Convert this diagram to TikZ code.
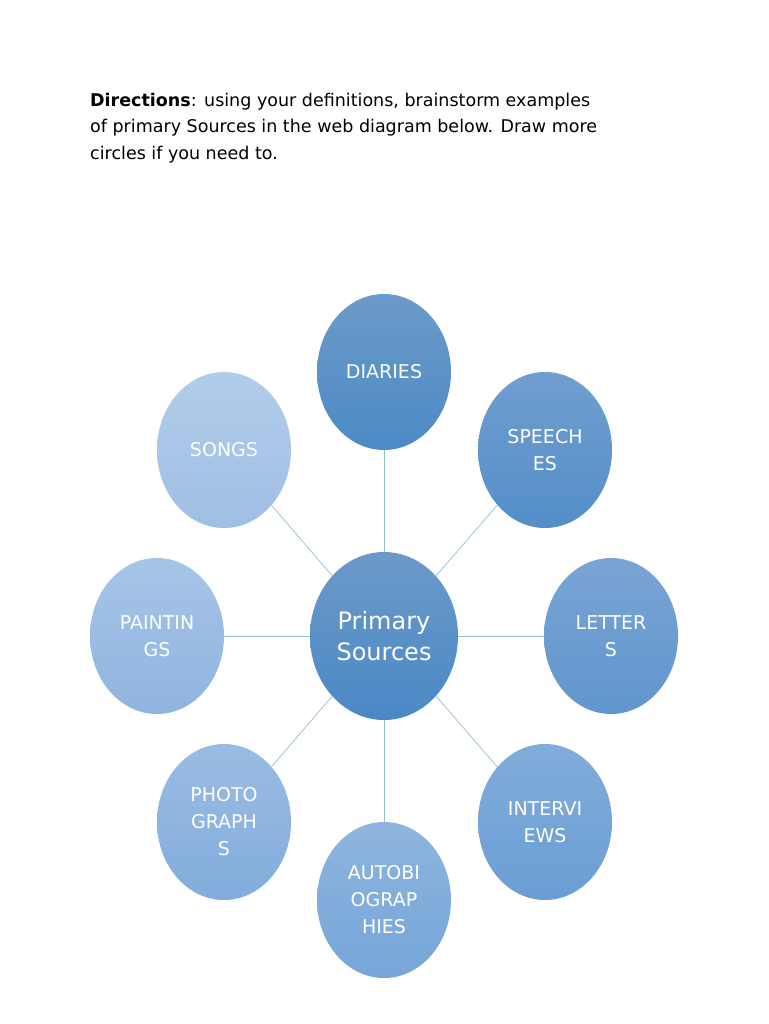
\documentclass[tikz,border=0pt]{standalone}
\usepackage{fontspec}
\setmainfont{DejaVu Sans}
\usetikzlibrary{shapes.geometric}
\begin{document}
\begin{tikzpicture}[x=1pt,y=-1pt,
  bub/.style={ellipse,minimum width=134pt,minimum height=156pt,inner sep=0pt,align=center,text=white,font=\fontsize{19}{27}\selectfont},
  link/.style={draw=blue!30!cyan!40!gray!60,line width=0.7pt}]
\useasboundingbox (0,0) rectangle (768,1024);
\node[anchor=north west,align=left,font=\fontsize{17.5}{26.5}\selectfont,inner sep=0pt] (dir) at (90,93)
 {\textbf{Directions}: using your definitions, brainstorm examples\\of primary Sources in the web diagram below. Draw more\\circles if you need to.};
\node[bub,top color={rgb,255:red,108;green,154;blue,200},bottom color={rgb,255:red,74;green,136;blue,198},minimum width=148pt,minimum height=168pt,font=\fontsize{24}{31}\selectfont] (c) at (384,636) {Primary\\Sources};
\node[bub,top color={rgb,255:red,108;green,154;blue,200},bottom color={rgb,255:red,76;green,138;blue,198}] (d) at (384,372) {DIARIES};
\node[bub,top color={rgb,255:red,112;green,158;blue,206},bottom color={rgb,255:red,84;green,142;blue,202}] (sp) at (545,450) {SPEECH\\ES};
\node[bub,top color={rgb,255:red,122;green,164;blue,212},bottom color={rgb,255:red,96;green,150;blue,206}] (l) at (611,636) {LETTER\\S};
\node[bub,top color={rgb,255:red,130;green,172;blue,218},bottom color={rgb,255:red,106;green,158;blue,212}] (i) at (545,822) {INTERVI\\EWS};
\node[bub,top color={rgb,255:red,142;green,180;blue,222},bottom color={rgb,255:red,118;green,166;blue,216}] (a) at (384,900) {AUTOBI\\OGRAP\\HIES};
\node[bub,top color={rgb,255:red,154;green,188;blue,226},bottom color={rgb,255:red,130;green,172;blue,220}] (p) at (224,822) {PHOTO\\GRAPH\\S};
\node[bub,top color={rgb,255:red,166;green,196;blue,230},bottom color={rgb,255:red,144;green,180;blue,224}] (pa) at (157,636) {PAINTIN\\GS};
\node[bub,top color={rgb,255:red,178;green,204;blue,234},bottom color={rgb,255:red,160;green,190;blue,228}] (s) at (224,450) {SONGS};
\foreach \n in {d,sp,l,i,a,p,pa,s} \draw[link] (c) -- (\n);
\end{tikzpicture}
\end{document}
